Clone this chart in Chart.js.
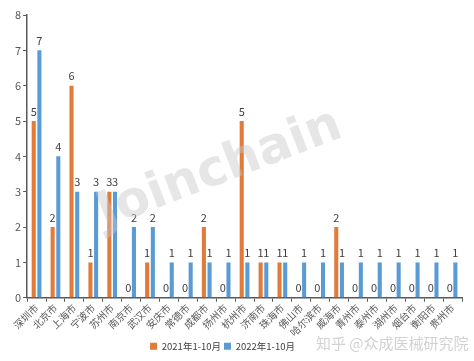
<!DOCTYPE html>
<html>
<head>
<meta charset="utf-8">
<script src="https://cdn.jsdelivr.net/npm/chart.js@4/dist/chart.umd.min.js"></script>
<style>
  html, body { margin: 0; padding: 0; background: #fff; }
  #wrap { width: 474px; height: 361px; }
</style>
</head>
<body>
<div id="wrap"><canvas id="myChart"></canvas></div>
<script>
// 城市
const cities = ['深圳市', '北京市', '上海市', '宁波市', '苏州市', '南京市', '武汉市', '安庆市', '常德市', '成都市', '扬州市', '杭州市',
  '济南市', '珠海市', '佛山市', '哈尔滨市', '威海市', '青州市', '泰州市', '湖州市', '烟台市', '衡阳市', '贵州市'];
// 2021年1-10月
const values2021 = [5, 2, 6, 1, 3, 0, 1, 0, 0, 2, 0, 5, 1, 1, 0, 0, 2, 0, 0, 0, 0, 0, 0];
// 2022年1-10月
const values2022 = [7, 4, 3, 3, 3, 2, 2, 1, 1, 1, 1, 1, 1, 1, 1, 1, 1, 1, 1, 1, 1, 1, 1];
const yTicks = [0, 1, 2, 3, 4, 5, 6, 7, 8];

const font = "'Noto Sans CJK SC', 'Noto Sans', sans-serif";

// 数据标签
const valueLabels = {
  id: 'valueLabels',
  afterDatasetsDraw(chart) {
    const ctx = chart.ctx;
    ctx.save();
    ctx.font = '11px ' + font;
    ctx.fillStyle = '#404040';
    ctx.textAlign = 'center';
    ctx.textBaseline = 'bottom';
    chart.data.datasets.forEach((ds, i) => {
      chart.getDatasetMeta(i).data.forEach((bar, j) => {
        ctx.fillText(ds.data[j], bar.x, bar.y - 4);
      });
    });
    ctx.restore();
  }
};

// 图例往左挪一点
const legendShift = {
  id: 'legendShift',
  afterLayout(chart) {
    chart.legend.left -= 15;
    chart.legend.right -= 15;
  }
};

// 水印
const watermark = {
  id: 'watermark',
  afterDraw(chart) {
    const ctx = chart.ctx;
    ctx.save();
    ctx.translate(220, 170);
    ctx.rotate(-21 * Math.PI / 180);
    ctx.font = 'bold 50px ' + "'DejaVu Sans', sans-serif";
    ctx.fillStyle = 'rgba(200,200,200,0.45)';
    ctx.textAlign = 'center';
    ctx.textBaseline = 'middle';
    ctx.fillText('Joinchain', 0, 0);
    ctx.restore();

    ctx.save();
    ctx.font = '15px ' + font;
    ctx.fillStyle = 'rgba(205,205,205,0.9)';
    ctx.textAlign = 'left';
    ctx.textBaseline = 'middle';
    ctx.fillText('知乎 @众成医械研究院', 316, 343);
    ctx.restore();
  }
};

const config = {
  type: 'bar',
  data: {
    labels: cities,
    datasets: [{
      label: '2021年1-10月',
      data: values2021,
      backgroundColor: '#E07B39',
      barPercentage: 0.72,
      categoryPercentage: 0.6
    }, {
      label: '2022年1-10月',
      data: values2022,
      backgroundColor: '#5B9BD5',
      barPercentage: 0.72,
      categoryPercentage: 0.6
    }]
  },
  options: {
    responsive: true,
    maintainAspectRatio: false,
    animation: false,
    layout: { padding: { left: 13, right: 12, top: 15, bottom: 0 } },
    plugins: {
      tooltip: { enabled: false },
      legend: {
        position: 'bottom',
        labels: {
          boxWidth: 7,
          boxHeight: 7,
          padding: 3,
          color: '#404040',
          font: { family: font, size: 9.5 }
        }
      }
    },
    scales: {
      x: {
        grid: { display: true, drawOnChartArea: false, offset: true, tickLength: 4, color: '#595959' },
        border: { color: '#595959', width: 1.5 },
        ticks: {
          maxRotation: 45, minRotation: 45, autoSkip: false, padding: 0,
          color: '#595959', font: { family: font, size: 10 }
        }
      },
      y: {
        min: 0, max: 8,
        afterBuildTicks(axis) { axis.ticks = yTicks.map(v => ({ value: v })); },
        grid: { display: true, drawOnChartArea: false, tickLength: 4, color: '#595959' },
        border: { color: '#595959', width: 1.5 },
        ticks: { padding: 2, color: '#595959', font: { family: font, size: 11 } }
      }
    }
  },
  plugins: [valueLabels, legendShift, watermark]
};

const ctx = document.getElementById('myChart');
const myChart = new Chart(ctx, config);
</script>
</body>
</html>
